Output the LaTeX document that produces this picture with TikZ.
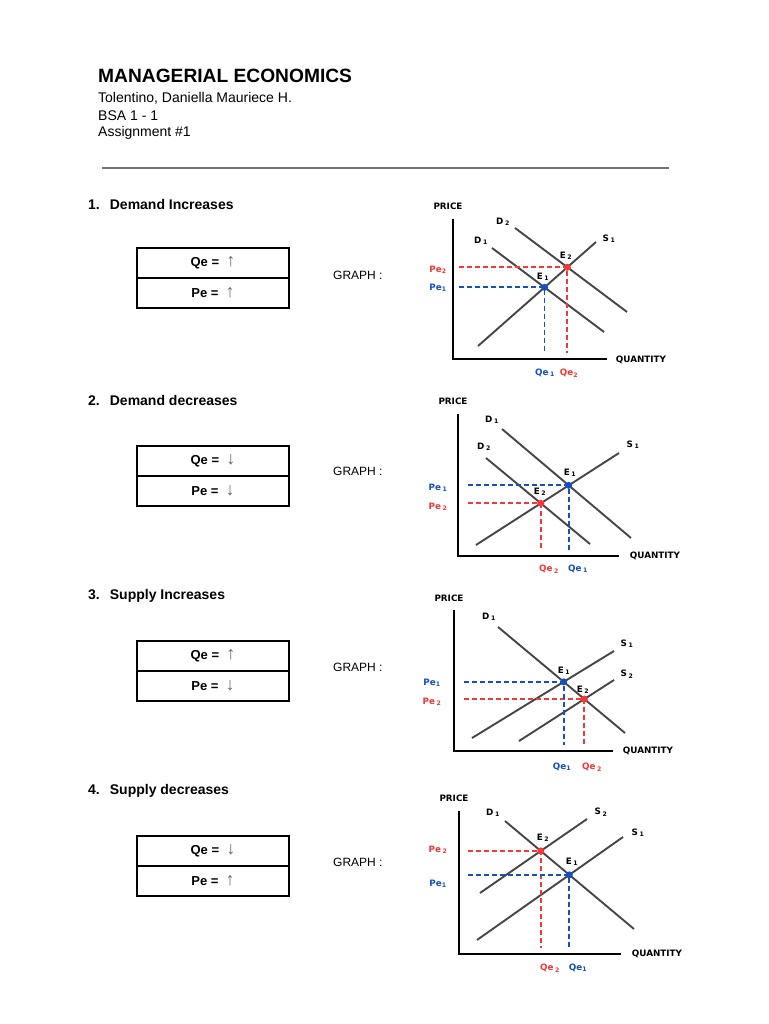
\documentclass[tikz,border=0pt]{standalone}
\usepackage{fontspec}
\setmainfont{Liberation Sans}
\newfontfamily\graphfont{DejaVu Sans}
\usepackage{tikz}
\usetikzlibrary{positioning, intersections}
\definecolor{ecored}{RGB}{245,55,55}
\definecolor{ecoblue}{RGB}{20,80,195}
\definecolor{ecogray}{RGB}{70,70,70}
\definecolor{arrgray}{RGB}{105,105,105}
\newcommand{\upar}{\textcolor{arrgray}{\mdseries\fontsize{18}{18}\selectfont ↑}}
\newcommand{\downar}{\textcolor{arrgray}{\mdseries\fontsize{18}{18}\selectfont ↓}}

\begin{document}
\begin{tikzpicture}[x=1pt, y=-1pt,
  title/.style={anchor=west, inner sep=0pt, font=\fontsize{19.2}{22}\selectfont\bfseries},
  info/.style={anchor=west, inner sep=0pt, font=\fontsize{14}{16}\selectfont},
  section/.style={anchor=west, inner sep=0pt, font=\fontsize{14}{16}\selectfont\bfseries},
  cell/.style={rectangle, draw=black, line width=1.8pt, minimum width=152pt, minimum height=30pt, inner sep=0pt, font=\fontsize{13}{14}\selectfont\bfseries},
  graphtag/.style={anchor=west, inner sep=0pt, font=\fontsize{12}{14}\selectfont},
  glab/.style={inner sep=0pt, font=\graphfont\bfseries\fontsize{8.8}{10}\selectfont},
  axis/.style={line width=2.4pt, black},
  curve/.style={line width=1.9pt, ecogray},
  reddash/.style={ecored, line width=1.8pt, dash pattern=on 5pt off 3pt},
  bluedash/.style={ecoblue, line width=1.8pt, dash pattern=on 5pt off 3pt}
]
\fill[white] (0,0) rectangle (768,1024);
\useasboundingbox (0,0) rectangle (768,1024);

% Header
\node[title] (title) at (98,76) {MANAGERIAL ECONOMICS};
\node[info] (student) at (98,98) {Tolentino, Daniella Mauriece H.};
\node[info] (block) at (98,116) {BSA 1 - 1};
\node[info] (task) at (98,133) {Assignment \#1};
\draw[line width=1.5pt, black!55] (102,168) -- (669,168);

% Left column
\node[section] (sec1) at (88,204) {1.\hspace{10pt}Demand Increases};
\node[cell] (qe1) at (213,263) {Qe =\ \ \upar};
\node[cell, below=-1.8pt of qe1] (pe1) {Pe =\ \ \upar};
\node[graphtag] (tag1) at (333,275) {GRAPH :};

\node[section] (sec2) at (88,400) {2.\hspace{10pt}Demand decreases};
\node[cell] (qe2) at (213,461) {Qe =\ \ \downar};
\node[cell, below=-1.8pt of qe2] (pe2) {Pe =\ \ \downar};
\node[graphtag] (tag2) at (333,471) {GRAPH :};

\node[section] (sec3) at (88,596) {3.\hspace{10pt}Supply Increases};
\node[cell] (qe3) at (213,656) {Qe =\ \ \upar};
\node[cell, below=-1.8pt of qe3] (pe3) {Pe =\ \ \downar};
\node[graphtag] (tag3) at (333,667) {GRAPH :};

\node[section] (sec4) at (88,791) {4.\hspace{10pt}Supply decreases};
\node[cell] (qe4) at (213,851) {Qe =\ \ \downar};
\node[cell, below=-1.8pt of qe4] (pe4) {Pe =\ \ \upar};
\node[graphtag] (tag4) at (333,862) {GRAPH :};

% Graph 1: demand increases
\begin{scope}[shift={(453,359)}]
  \draw[axis] (0,-140) -- (0,0) -- (154,0);
  \node[glab] (price1) at (-5,-153) {PRICE};
  \node[glab] (qty1) at (188,1) {QUANTITY};
  \draw[curve, name path=sa1] (25,-13) -- (143,-117);
  \draw[curve, name path=da1] (39,-111) -- (151,-27);
  \draw[curve, name path=da2] (62,-131) -- (174,-47);
  \path[name intersections={of=sa1 and da1, by=ea1}];
  \path[name intersections={of=sa1 and da2, by=ea2}];
  \coordinate (pa) at (6,0);
  \coordinate (qa) at (0,-6);
  \draw[reddash] (ea2 -| pa) -- (ea2) -- (ea2 |- qa);
  \draw[bluedash] (ea1 -| pa) -- (ea1) -- (ea1 |- qa);
  \fill[ecored] (ea2) circle (3.5);
  \fill[ecoblue] (ea1) circle (3.5);
  \node[glab] (lda2) at (50,-137) {D\,\textsubscript{2}};
  \node[glab] (lda1) at (28,-118) {D\,\textsubscript{1}};
  \node[glab] (lsa1) at (156,-120) {S\,\textsubscript{1}};
  \node[glab] (lea2) at (113,-103) {E\,\textsubscript{2}};
  \node[glab] (lea1) at (90,-82) {E\,\textsubscript{1}};
  \node[glab, ecored] (pea2) at (-15,-89) {Pe\textsubscript{2}};
  \node[glab, ecoblue] (pea1) at (-15,-71) {Pe\textsubscript{1}};
  \node[glab, ecoblue] (qea1) at (92,14) {Qe\,\textsubscript{1}};
  \node[glab, ecored] (qea2) at (116,14) {Qe\textsubscript{2}};
\end{scope}

% Graph 2: demand decreases
\begin{scope}[shift={(458,556)}]
  \draw[axis] (0,-142) -- (0,0) -- (161,0);
  \node[glab] (price2) at (-5,-155) {PRICE};
  \node[glab] (qty2) at (197,0) {QUANTITY};
  \draw[curve, name path=db1] (44,-127) -- (173,-18);
  \draw[curve, name path=db2] (28,-98) -- (132,-12);
  \draw[curve, name path=sb1] (18,-11) -- (161,-103);
  \path[name intersections={of=sb1 and db1, by=eb1}];
  \path[name intersections={of=sb1 and db2, by=eb2}];
  \coordinate (pb) at (10,0);
  \coordinate (qb) at (0,-6);
  \draw[bluedash] (eb1 -| pb) -- (eb1) -- (eb1 |- qb);
  \draw[reddash] (eb2 -| pb) -- (eb2) -- (eb2 |- qb);
  \fill[ecoblue] (eb1) circle (3.5);
  \fill[ecored] (eb2) circle (3.5);
  \node[glab] (ldb1) at (34,-136) {D\,\textsubscript{1}};
  \node[glab] (ldb2) at (26,-109) {D\,\textsubscript{2}};
  \node[glab] (lsb1) at (175,-111) {S\,\textsubscript{1}};
  \node[glab] (leb1) at (112,-83) {E\,\textsubscript{1}};
  \node[glab] (leb2) at (82,-64) {E\,\textsubscript{2}};
  \node[glab, ecoblue] (peb1) at (-20,-68) {Pe\,\textsubscript{1}};
  \node[glab, ecored] (peb2) at (-20,-49) {Pe\,\textsubscript{2}};
  \node[glab, ecored] (qeb2) at (91,13) {Qe\,\textsubscript{2}};
  \node[glab, ecoblue] (qeb1) at (120,13) {Qe\,\textsubscript{1}};
\end{scope}

% Graph 3: supply increases
\begin{scope}[shift={(454,751)}]
  \draw[axis] (0,-141) -- (0,0) -- (159,0);
  \node[glab] (price3) at (-5,-153) {PRICE};
  \node[glab] (qty3) at (194,0) {QUANTITY};
  \draw[curve, name path=dc1] (44,-124) -- (171,-18);
  \draw[curve, name path=sc1] (18,-13) -- (160,-100);
  \draw[curve, name path=sc2] (65,-10) -- (160,-71);
  \path[name intersections={of=dc1 and sc1, by=ec1}];
  \path[name intersections={of=dc1 and sc2, by=ec2}];
  \coordinate (pc) at (10,0);
  \coordinate (qc) at (0,-6);
  \draw[reddash] (ec2 -| pc) -- (ec2) -- (ec2 |- qc);
  \draw[bluedash] (ec1 -| pc) -- (ec1) -- (ec1 |- qc);
  \fill[ecored] (ec2) circle (3.5);
  \fill[ecoblue] (ec1) circle (3.5);
  \node[glab] (ldc1) at (35,-134) {D\,\textsubscript{1}};
  \node[glab] (lsc1) at (173,-107) {S\,\textsubscript{1}};
  \node[glab] (lsc2) at (173,-77) {S\,\textsubscript{2}};
  \node[glab] (lec1) at (110,-80) {E\,\textsubscript{1}};
  \node[glab] (lec2) at (129,-61) {E\,\textsubscript{2}};
  \node[glab, ecoblue] (pec1) at (-22,-68) {Pe\textsubscript{1}};
  \node[glab, ecored] (pec2) at (-22,-49) {Pe\,\textsubscript{2}};
  \node[glab, ecoblue] (qec1) at (108,16) {Qe\textsubscript{1}};
  \node[glab, ecored] (qec2) at (138,16) {Qe\,\textsubscript{2}};
\end{scope}

% Graph 4: supply decreases
\begin{scope}[shift={(459,954)}]
  \draw[axis] (0,-143) -- (0,0) -- (162,0);
  \node[glab] (price4) at (-5,-156) {PRICE};
  \node[glab] (qty4) at (198,0) {QUANTITY};
  \draw[curve, name path=dd1] (46,-133) -- (175,-25);
  \draw[curve, name path=sd2] (21,-61) -- (128,-135);
  \draw[curve, name path=sd1] (18,-14) -- (164,-117);
  \path[name intersections={of=dd1 and sd2, by=ed2}];
  \path[name intersections={of=dd1 and sd1, by=ed1}];
  \coordinate (pd) at (9,0);
  \coordinate (qd) at (0,-6);
  \draw[reddash] (ed2 -| pd) -- (ed2) -- (ed2 |- qd);
  \draw[bluedash] (ed1 -| pd) -- (ed1) -- (ed1 |- qd);
  \fill[ecored] (ed2) circle (3.5);
  \fill[ecoblue] (ed1) circle (3.5);
  \node[glab] (ldd1) at (34,-141) {D\,\textsubscript{1}};
  \node[glab] (lsd2) at (142,-142) {S\,\textsubscript{2}};
  \node[glab] (lsd1) at (179,-121) {S\,\textsubscript{1}};
  \node[glab] (led2) at (84,-116) {E\,\textsubscript{2}};
  \node[glab] (led1) at (113,-92) {E\,\textsubscript{1}};
  \node[glab, ecored] (ped2) at (-21,-104) {Pe\,\textsubscript{2}};
  \node[glab, ecoblue] (ped1) at (-21,-70) {Pe\textsubscript{1}};
  \node[glab, ecored] (qed2) at (91,14) {Qe\,\textsubscript{2}};
  \node[glab, ecoblue] (qed1) at (119,14) {Qe\textsubscript{1}};
\end{scope}
\end{tikzpicture}
\end{document}
